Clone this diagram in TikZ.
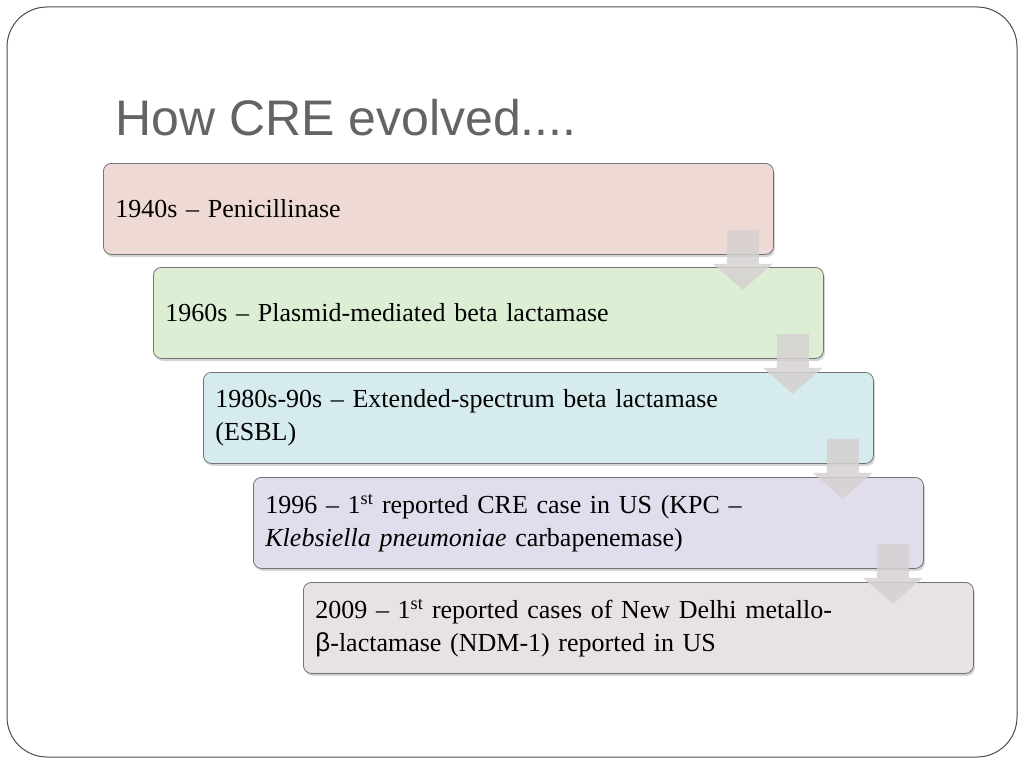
\documentclass[tikz,border=0pt]{standalone}
\usepackage{fontspec}
\setmainfont{Liberation Serif}
\newfontfamily\titlefont{Liberation Sans}
\newfontfamily\greekfont{Liberation Sans}
\usetikzlibrary{shadows}
\definecolor{boxpink}{HTML}{EFD9D5}
\definecolor{boxgreen}{HTML}{DCEFD5}
\definecolor{boxblue}{HTML}{D5EBEE}
\definecolor{boxlilac}{HTML}{E1DDEC}
\definecolor{boxgrey}{HTML}{E8E2E2}
\definecolor{titlegrey}{HTML}{646464}
\definecolor{arrowgrey}{HTML}{D6D1D1}
\tikzset{stage/.style={draw=black!55, line width=0.8pt, rounded corners=8pt, anchor=north west,
    minimum width=670pt, minimum height=91pt, text width=646pt, inner xsep=12pt, align=left,
    font=\fontsize{26}{33}\selectfont,
    drop shadow={shadow xshift=1.5pt, shadow yshift=-2.5pt, opacity=0.35}},
  downarrow/.style={fill=arrowgrey, opacity=0.85}}

\begin{document}
\begin{tikzpicture}[x=1pt,y=-1pt]
  \useasboundingbox (0,0) rectangle (1024,768);
  \draw[black!70, line width=1pt, rounded corners=40pt] (7,7) rectangle (1017,757);
  \node[anchor=base west, inner sep=0, text=titlegrey, font=\titlefont\fontsize{50}{60}\selectfont] (title) at (115,135) {How CRE evolved....};

  % the five stages
  \node[stage, fill=boxpink]  (s1) at (103,163) {1940s -- Penicillinase};
  \node[stage, fill=boxgreen] (s2) at (153,267) {1960s -- Plasmid-mediated beta lactamase};
  \node[stage, fill=boxblue]  (s3) at (203,372) {1980s-90s -- Extended-spectrum beta lactamase\\(ESBL)};
  \node[stage, fill=boxlilac] (s4) at (253,477) {1996 -- 1\textsuperscript{st} reported CRE case in US (KPC --\\\textit{Klebsiella pneumoniae} carbapenemase)};
  \node[stage, fill=boxgrey]  (s5) at (303,582) {2009 -- 1\textsuperscript{st} reported cases of New Delhi metallo-\\{\greekfont β}-lactamase (NDM-1) reported in US};

  % arrows between stages
  \fill[downarrow] (s1.south east) ++(-47,-25) -- ++(32,0) -- ++(0,34) -- ++(14,0) -- ++(-30,26) -- ++(-30,-26) -- ++(14,0) -- cycle;
  \fill[downarrow] (s2.south east) ++(-47,-25) -- ++(32,0) -- ++(0,34) -- ++(14,0) -- ++(-30,26) -- ++(-30,-26) -- ++(14,0) -- cycle;
  \fill[downarrow] (s3.south east) ++(-47,-25) -- ++(32,0) -- ++(0,34) -- ++(14,0) -- ++(-30,26) -- ++(-30,-26) -- ++(14,0) -- cycle;
  \fill[downarrow] (s4.south east) ++(-47,-25) -- ++(32,0) -- ++(0,34) -- ++(14,0) -- ++(-30,26) -- ++(-30,-26) -- ++(14,0) -- cycle;
\end{tikzpicture}
\end{document}
